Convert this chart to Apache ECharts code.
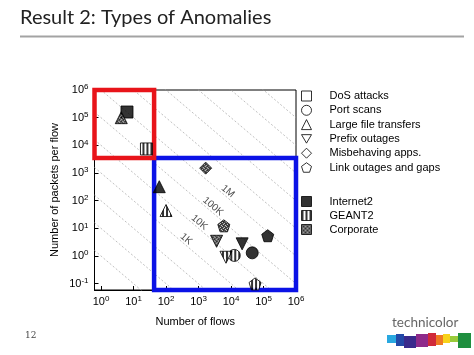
<!DOCTYPE html>
<html><head><meta charset="utf-8">
<script src="https://cdn.jsdelivr.net/npm/echarts@6/dist/echarts.min.js"></script>
<style>html,body{margin:0;padding:0;background:#fff}#c{width:474px;height:355px}</style>
</head><body><div id="c"></div>
<script>
// ---------- data ----------
const anomalyTypes = ['DoS attacks', 'Port scans', 'Large file transfers', 'Prefix outages', 'Misbehaving apps.', 'Link outages and gaps'];
const networks = ['Internet2', 'GEANT2', 'Corporate'];

const internet2Types = ['DoS attacks', 'Large file transfers', 'Prefix outages', 'Port scans', 'Link outages and gaps'];
const internet2Flows = [6.3, 62, 22000, 45000, 135000];
const internet2Packets = [160000, 320, 2.75, 1.3, 5.4];

const geant2Types = ['DoS attacks', 'Large file transfers', 'Port scans', 'Prefix outages', 'Link outages and gaps'];
const geant2Flows = [25, 100, 12600, 7000, 55000];
const geant2Packets = [7400, 44, 1.05, 0.9, 0.098];

const corporateTypes = ['Large file transfers', 'Misbehaving apps.', 'Link outages and gaps', 'Prefix outages'];
const corporateFlows = [4.2, 1660, 6000, 3600];
const corporatePackets = [100000, 1500, 12.3, 3.4];

const xTicks = [1, 10, 100, 1e3, 1e4, 1e5, 1e6];
const yTicks = [0.1, 1, 10, 100, 1e3, 1e4, 1e5, 1e6];
const xRange = [0.63, 1e6];
const yRange = [0.059, 1e6];

// total packets guide lines (flows x packets/flow)
const guideTotals = [1, 10, 100, 1e3, 1e4, 1e5, 1e6, 1e7, 1e8, 1e9, 1e10, 1e11];
const guideLabelTotals = [1e3, 1e4, 1e5, 1e6];
const guideLabelNames = ['1K', '10K', '100K', '1M'];
const guideLabelFlows = [269, 676, 1780, 5130];

// box boundaries
const boxFlowSplit = 43;
const boxPacketSplit = 3470;

// ---------- styles ----------
const MARK_SIZE = 12;
function pattern(w, h, bits, scale) {
  const c = document.createElement('canvas');
  c.width = w; c.height = h;
  const ctx = c.getContext('2d');
  ctx.fillStyle = '#fff'; ctx.fillRect(0, 0, w, h);
  ctx.fillStyle = '#000';
  for (let y = 0; y < h; y++) for (let x = 0; x < w; x++) if (bits[y * w + x]) ctx.fillRect(x, y, 1, 1);
  return { image: c, repeat: 'repeat', scaleX: scale, scaleY: scale };
}
const stripeBits = [1, 1, 0, 0];
const speckBits = [1,1,0,1, 0,1,1,1, 1,1,1,0, 1,0,1,1];
function netFill(net, scale) {
  if (net === 'Internet2') return '#000';
  if (net === 'GEANT2') return pattern(4, 1, stripeBits, scale);
  return pattern(4, 4, speckBits, scale);
}
const invTri = 'path://M-10,-8 L10,-8 L0,9 Z';
const pentagon = 'path://M0,-10 L9.51,-3.09 L5.88,8.09 L-5.88,8.09 L-9.51,-3.09 Z';
const typeSymbols = {
  'DoS attacks': 'rect', 'Port scans': 'circle', 'Large file transfers': 'triangle',
  'Prefix outages': invTri, 'Misbehaving apps.': 'diamond', 'Link outages and gaps': pentagon
};

const netData = {
  'Internet2': [internet2Types, internet2Flows, internet2Packets],
  'GEANT2': [geant2Types, geant2Flows, geant2Packets],
  'Corporate': [corporateTypes, corporateFlows, corporatePackets]
};

const series = [];

// guide lines
guideTotals.forEach(t => {
  series.push({
    type: 'line', silent: true, symbol: 'none', clip: true, z: 1,
    data: [[xRange[0], t / xRange[0]], [xRange[1], t / xRange[1]]],
    lineStyle: { color: '#b0b0b0', width: 0.8, type: [2, 2] }
  });
});
series.push({
  type: 'scatter', silent: true, symbolSize: 0, z: 2,
  data: guideLabelTotals.map((t, i) => ({ value: [guideLabelFlows[i], t / guideLabelFlows[i]], name: guideLabelNames[i] })),
  label: { show: true, position: 'inside', formatter: p => p.name, rotate: -40, offset: [4, -5],
    fontSize: 10, fontFamily: 'Liberation Sans', color: '#222' }
});

// boxes
function boxLine(color, pts) {
  return { type: 'line', silent: true, symbol: 'none', clip: false, z: 3, data: pts,
    lineStyle: { color: color, width: 4.5, join: 'miter', cap: 'square' } };
}
series.push(boxLine('#0b12e6', [[boxFlowSplit, boxPacketSplit], [xRange[1], boxPacketSplit], [xRange[1], yRange[0]], [boxFlowSplit, yRange[0]], [boxFlowSplit, boxPacketSplit]]));
series.push(boxLine('#e8141a', [[xRange[0], yRange[1]], [boxFlowSplit, yRange[1]], [boxFlowSplit, boxPacketSplit], [xRange[0], boxPacketSplit], [xRange[0], yRange[1]]]));

// anomaly series
anomalyTypes.forEach(type => {
  const data = [];
  networks.forEach(net => {
    const [types, flows, packets] = netData[net];
    types.forEach((t, i) => {
      if (t === type) data.push({ value: [flows[i], packets[i]], itemStyle: { color: netFill(net, 2 / MARK_SIZE) } });
    });
  });
  series.push({
    type: 'scatter', name: type, symbol: typeSymbols[type], symbolSize: MARK_SIZE, z: 5, clip: false,
    itemStyle: { color: '#fff', borderColor: '#000', borderWidth: 1 },
    data: data
  });
});
// network legend carriers
networks.forEach(net => {
  series.push({ type: 'scatter', name: net, symbol: 'rect', data: [],
    itemStyle: { color: netFill(net, 1), borderColor: '#000', borderWidth: 1 } });
});

function pow10(v) {
  const e = Math.round(Math.log10(v));
  return '{b|10}{s|' + e + '}';
}
const tickRich = {
  b: { fontSize: 11, fontFamily: 'Liberation Sans', color: '#000', lineHeight: 14 },
  s: { fontSize: 8, fontFamily: 'Liberation Sans', color: '#000', verticalAlign: 'top', lineHeight: 14 }
};

const option = {
  animation: false,
  backgroundColor: '#fff',
  grid: { left: 94.5, right: 178, top: 90, bottom: 65, show: true, borderColor: '#000', borderWidth: 1 },
  xAxis: {
    type: 'log', logBase: 10, min: xRange[0], max: xRange[1],
    name: 'Number of flows', nameLocation: 'middle', nameGap: 26,
    nameTextStyle: { fontSize: 11, fontFamily: 'Liberation Sans', color: '#000' },
    axisLine: { lineStyle: { color: '#000', width: 1 } },
    axisTick: { inside: true, length: 4, customValues: xTicks, lineStyle: { color: '#000' } },
    axisLabel: { customValues: xTicks, formatter: pow10, rich: tickRich, margin: 5 },
    splitLine: { show: false }, minorTick: { show: false }
  },
  yAxis: {
    type: 'log', logBase: 10, min: yRange[0], max: yRange[1],
    name: 'Number of packets per flow', nameLocation: 'middle', nameGap: 34,
    nameTextStyle: { fontSize: 11, fontFamily: 'Liberation Sans', color: '#000' },
    axisLine: { lineStyle: { color: '#000', width: 1 } },
    axisTick: { inside: true, length: 4, customValues: yTicks, lineStyle: { color: '#000' } },
    axisLabel: { customValues: yTicks, formatter: pow10, rich: tickRich, margin: 6 },
    splitLine: { show: false }, minorTick: { show: false }
  },
  legend: [
    {
      orient: 'vertical', left: 301, top: 90.5, padding: 0, itemWidth: 10, itemHeight: 10, itemGap: 3.3,
      selectedMode: false,
      data: anomalyTypes.map(t => ({ name: t, icon: typeSymbols[t], itemStyle: { color: '#fff', borderColor: '#000', borderWidth: 1 } })),
      textStyle: { fontSize: 11, fontFamily: 'Liberation Sans', color: '#000', padding: [0, 0, 0, 13] }
    },
    {
      orient: 'vertical', left: 301, top: 196, padding: 0, itemWidth: 10, itemHeight: 10, itemGap: 3,
      selectedMode: false,
      data: networks.map(n => ({ name: n, icon: 'rect', itemStyle: { color: netFill(n, 1), borderColor: '#000', borderWidth: 1 } })),
      textStyle: { fontSize: 11, fontFamily: 'Liberation Sans', color: '#000', padding: [0, 0, 0, 13] }
    }
  ],
  graphic: [
    { type: 'text', left: 20, top: 8, style: { text: 'Result 2: Types of Anomalies', font: '20px Lato', fill: '#222' } },
    { type: 'rect', shape: { x: 20, y: 35.5, width: 444, height: 2 }, style: { fill: '#a3a3a3' } },
    { type: 'text', left: 25, top: 331, style: { text: '12', font: '9px "DejaVu Serif"', fill: '#444' } },
    { type: 'text', left: 392, top: 316, style: { text: 'technicolor', font: '13.5px Lato', fill: '#666' } },
    { type: 'rect', shape: { x: 387, y: 335, width: 9, height: 8 }, style: { fill: '#29a8e0' } },
    { type: 'rect', shape: { x: 396, y: 334, width: 8, height: 12 }, style: { fill: '#2349a8' } },
    { type: 'rect', shape: { x: 404, y: 336, width: 12, height: 12 }, style: { fill: '#3a2a8c' } },
    { type: 'rect', shape: { x: 416, y: 334, width: 12, height: 13 }, style: { fill: '#8e2a8a' } },
    { type: 'rect', shape: { x: 428, y: 333, width: 8, height: 13 }, style: { fill: '#d02a3a' } },
    { type: 'rect', shape: { x: 436, y: 335, width: 7, height: 10 }, style: { fill: '#ef7a22' } },
    { type: 'rect', shape: { x: 443, y: 334, width: 7, height: 9 }, style: { fill: '#f7d21a' } },
    { type: 'rect', shape: { x: 450, y: 336, width: 8, height: 6 }, style: { fill: '#9acb3b' } },
    { type: 'rect', shape: { x: 458, y: 333, width: 13, height: 15 }, style: { fill: '#1f8f3f' } }
  ],
  series: series
};
const chart = echarts.init(document.getElementById('c'), null, { renderer: 'canvas' });
chart.setOption(option);
</script></body></html>
